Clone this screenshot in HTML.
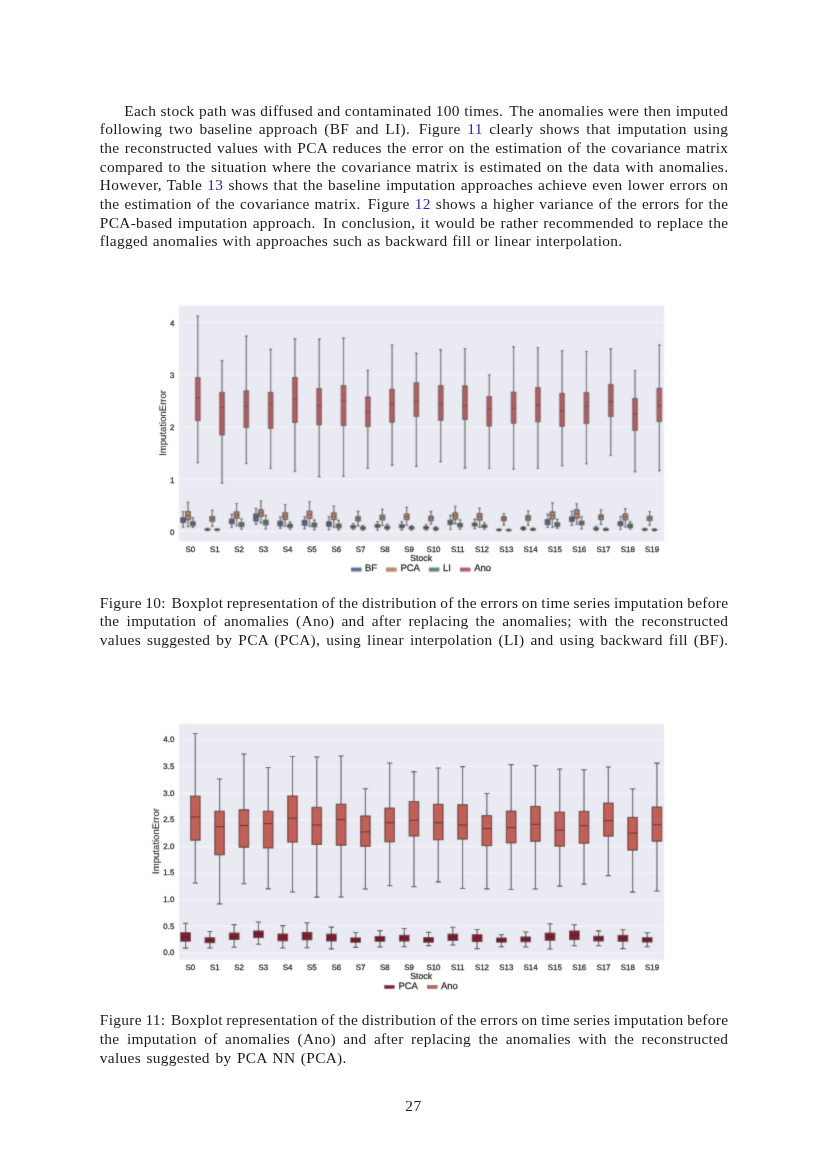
<!DOCTYPE html>
<html lang="en">
<head>
<meta charset="utf-8">
<title>Page 27</title>
<style>
html,body{margin:0;padding:0;background:#fff;}
body{width:827px;height:1169px;position:relative;overflow:hidden;font-family:"Liberation Serif","DejaVu Serif",serif;color:#1a1a1a;}
.ln{position:absolute;height:20px;line-height:20px;font-size:15.4px;white-space:nowrap;}
.sp{display:inline-block;width:2px;}
.ln a{color:#2626c4;text-decoration:none;}
.pn{position:absolute;left:0;width:827px;text-align:center;top:1095.5px;font-size:15.4px;line-height:20px;letter-spacing:0.5px;}
svg{position:absolute;left:0;top:0;}
svg text{text-rendering:geometricPrecision;stroke:#262626;stroke-width:0.25px;}
</style>
</head>
<body>
<div class="ln" style="top:100.6px;left:124.2px;letter-spacing:0.300px;word-spacing:0.273px;">Each stock path was diffused and contaminated 100 times.<span class=sp></span> The anomalies were then imputed</div>
<div class="ln" style="top:119.28px;left:99.8px;letter-spacing:0.300px;word-spacing:2.425px;">following two baseline approach (BF and LI).<span class=sp></span> Figure <a>11</a> clearly shows that imputation using</div>
<div class="ln" style="top:137.96px;left:99.8px;letter-spacing:0.300px;word-spacing:1.179px;">the reconstructed values with PCA reduces the error on the estimation of the covariance matrix</div>
<div class="ln" style="top:156.64px;left:99.8px;letter-spacing:0.300px;word-spacing:1.148px;">compared to the situation where the covariance matrix is estimated on the data with anomalies.</div>
<div class="ln" style="top:175.32px;left:99.8px;letter-spacing:0.300px;word-spacing:1.007px;">However, Table <a>13</a> shows that the baseline imputation approaches achieve even lower errors on</div>
<div class="ln" style="top:194px;left:99.8px;letter-spacing:0.300px;word-spacing:0.894px;">the estimation of the covariance matrix.<span class=sp></span> Figure <a>12</a> shows a higher variance of the errors for the</div>
<div class="ln" style="top:212.68px;left:99.8px;letter-spacing:0.300px;word-spacing:1.067px;">PCA-based imputation approach.<span class=sp></span> In conclusion, it would be rather recommended to replace the</div>
<div class="ln" style="top:231.36px;left:99.8px;letter-spacing:0.300px;word-spacing:0.593px;">flagged anomalies with approaches such as backward fill or linear interpolation.</div>
<div class="ln" style="top:592.8px;left:99.8px;letter-spacing:0.300px;word-spacing:-0.564px;">Figure 10:<span class=sp></span> Boxplot representation of the distribution of the errors on time series imputation before</div>
<div class="ln" style="top:611.4px;left:99.8px;letter-spacing:0.300px;word-spacing:2.946px;">the imputation of anomalies (Ano) and after replacing the anomalies; with the reconstructed</div>
<div class="ln" style="top:630px;left:99.8px;letter-spacing:0.300px;word-spacing:1.866px;">values suggested by PCA (PCA), using linear interpolation (LI) and using backward fill (BF).</div>
<div class="ln" style="top:1010.4px;left:99.8px;letter-spacing:0.300px;word-spacing:-0.523px;">Figure 11:<span class=sp></span> Boxplot representation of the distribution of the errors on time series imputation before</div>
<div class="ln" style="top:1029.05px;left:99.8px;letter-spacing:0.300px;word-spacing:3.327px;">the imputation of anomalies (Ano) and after replacing the anomalies with the reconstructed</div>
<div class="ln" style="top:1047.7px;left:99.8px;letter-spacing:0.300px;word-spacing:1.397px;">values suggested by PCA NN (PCA).</div>
<div class="pn">27</div>
<svg width="827" height="1169" viewBox="0 0 827 1169">
<defs><filter id="softT" x="-2%" y="-2%" width="104%" height="104%"><feConvolveMatrix order="3" kernelMatrix="0.01 0.07 0.01 0.07 0.68 0.07 0.01 0.07 0.01" edgeMode="duplicate" preserveAlpha="false"/></filter><filter id="soft2" x="-2%" y="-2%" width="104%" height="104%"><feConvolveMatrix order="3" kernelMatrix="0.03 0.09 0.03 0.09 0.52 0.09 0.03 0.09 0.03" edgeMode="duplicate" preserveAlpha="false"/></filter><filter id="soft" x="-2%" y="-2%" width="104%" height="104%"><feConvolveMatrix order="3" kernelMatrix="0.05 0.1 0.05 0.1 0.4 0.1 0.05 0.1 0.05" edgeMode="duplicate" preserveAlpha="false"/></filter></defs>
<g filter="url(#soft)">
<rect x="179" y="305.6" width="485.1" height="235.8" fill="#eaeaf2"/>
<path d="M179 531.4H664.1M179 479.2H664.1M179 427H664.1M179 374.8H664.1M179 322.6H664.1" stroke="#ffffff" stroke-width="0.55" fill="none"/>
<path d="M183.16 517.88V511.56M183.16 522.53V527.22M181.83 511.56H184.49M181.83 527.22H184.49" stroke="#4c4c4c" stroke-width="1.1" fill="none"/><rect x="180.78" y="517.88" width="4.76" height="4.65" fill="#546f9e" stroke="#4c4c4c" stroke-width="1.1"/><path d="M180.78 519.92H185.54" stroke="#4c4c4c" stroke-width="0.99"/>
<path d="M188.02 511.56V502.22M188.02 519.71V526.6M186.68 502.22H189.35M186.68 526.6H189.35" stroke="#4c4c4c" stroke-width="1.1" fill="none"/><rect x="185.64" y="511.56" width="4.76" height="8.14" fill="#c8865f" stroke="#4c4c4c" stroke-width="1.1"/><path d="M185.64 515.58H190.4" stroke="#4c4c4c" stroke-width="0.99"/>
<path d="M192.88 521.85V517.62M192.88 525.66V527.49M191.54 517.62H194.21M191.54 527.49H194.21" stroke="#4c4c4c" stroke-width="1.1" fill="none"/><rect x="190.5" y="521.85" width="4.76" height="3.81" fill="#588f66" stroke="#4c4c4c" stroke-width="1.1"/><path d="M190.5 523.62H195.26" stroke="#4c4c4c" stroke-width="0.99"/>
<path d="M197.74 377.57V315.97M197.74 420.68V462.7M196.4 315.97H199.07M196.4 462.7H199.07" stroke="#4c4c4c" stroke-width="1.1" fill="none"/><rect x="195.36" y="377.57" width="4.76" height="43.12" fill="#b85b5f" stroke="#4c4c4c" stroke-width="0.83"/><path d="M195.36 397.87H200.12" stroke="#4c4c4c" stroke-width="0.77"/>
<path d="M207.45 528.89V528.27M207.45 530.04V530.77M206.12 528.27H208.79M206.12 530.77H208.79" stroke="#4c4c4c" stroke-width="1.1" fill="none"/><rect x="205.07" y="528.89" width="4.76" height="1.15" fill="#546f9e" stroke="#4c4c4c" stroke-width="1.1"/><path d="M205.07 529.52H209.83" stroke="#4c4c4c" stroke-width="0.99"/>
<path d="M212.31 516.52V510.36M212.31 521.22V526.44M210.98 510.36H213.65M210.98 526.44H213.65" stroke="#4c4c4c" stroke-width="1.1" fill="none"/><rect x="209.93" y="516.52" width="4.76" height="4.7" fill="#c8865f" stroke="#4c4c4c" stroke-width="1.1"/><path d="M209.93 518.82H214.69" stroke="#4c4c4c" stroke-width="0.99"/>
<path d="M217.17 529.21V528.69M217.17 530.15V530.77M215.84 528.69H218.51M215.84 530.77H218.51" stroke="#4c4c4c" stroke-width="1.1" fill="none"/><rect x="214.79" y="529.21" width="4.76" height="0.94" fill="#588f66" stroke="#4c4c4c" stroke-width="1.1"/><path d="M214.79 529.68H219.55" stroke="#4c4c4c" stroke-width="0.99"/>
<path d="M222.03 392.34V360.65M222.03 434.99V483.22M220.7 360.65H223.36M220.7 483.22H223.36" stroke="#4c4c4c" stroke-width="1.1" fill="none"/><rect x="219.65" y="392.34" width="4.76" height="42.65" fill="#b85b5f" stroke="#4c4c4c" stroke-width="0.83"/><path d="M219.65 407.42H224.41" stroke="#4c4c4c" stroke-width="0.77"/>
<path d="M231.75 519.24V514.33M231.75 523.73V527.49M230.42 514.33H233.08M230.42 527.49H233.08" stroke="#4c4c4c" stroke-width="1.1" fill="none"/><rect x="229.37" y="519.24" width="4.76" height="4.49" fill="#546f9e" stroke="#4c4c4c" stroke-width="1.1"/><path d="M229.37 521.48H234.13" stroke="#4c4c4c" stroke-width="0.99"/>
<path d="M236.61 511.93V503.53M236.61 518.14V525.76M235.27 503.53H237.94M235.27 525.76H237.94" stroke="#4c4c4c" stroke-width="1.1" fill="none"/><rect x="234.23" y="511.93" width="4.76" height="6.21" fill="#c8865f" stroke="#4c4c4c" stroke-width="1.1"/><path d="M234.23 515.11H238.99" stroke="#4c4c4c" stroke-width="0.99"/>
<path d="M241.47 522.53V518.98M241.47 526.55V529.26M240.13 518.98H242.8M240.13 529.26H242.8" stroke="#4c4c4c" stroke-width="1.1" fill="none"/><rect x="239.09" y="522.53" width="4.76" height="4.02" fill="#588f66" stroke="#4c4c4c" stroke-width="1.1"/><path d="M239.09 524.51H243.85" stroke="#4c4c4c" stroke-width="0.99"/>
<path d="M246.33 390.83V336.17M246.33 427.63V463.49M244.99 336.17H247.66M244.99 463.49H247.66" stroke="#4c4c4c" stroke-width="1.1" fill="none"/><rect x="243.95" y="390.83" width="4.76" height="36.8" fill="#b85b5f" stroke="#4c4c4c" stroke-width="0.83"/><path d="M243.95 406.22H248.71" stroke="#4c4c4c" stroke-width="0.77"/>
<path d="M256.04 514.07V508.22M256.04 520.96V524.35M254.71 508.22H257.38M254.71 524.35H257.38" stroke="#4c4c4c" stroke-width="1.1" fill="none"/><rect x="253.66" y="514.07" width="4.76" height="6.89" fill="#546f9e" stroke="#4c4c4c" stroke-width="1.1"/><path d="M253.66 517.2H258.42" stroke="#4c4c4c" stroke-width="0.99"/>
<path d="M260.9 509.89V501.02M260.9 516.26V522.84M259.57 501.02H262.24M259.57 522.84H262.24" stroke="#4c4c4c" stroke-width="1.1" fill="none"/><rect x="258.52" y="509.89" width="4.76" height="6.37" fill="#c8865f" stroke="#4c4c4c" stroke-width="1.1"/><path d="M258.52 512.87H263.28" stroke="#4c4c4c" stroke-width="0.99"/>
<path d="M265.76 520.33V515.37M265.76 524.77V529.05M264.43 515.37H267.1M264.43 529.05H267.1" stroke="#4c4c4c" stroke-width="1.1" fill="none"/><rect x="263.38" y="520.33" width="4.76" height="4.44" fill="#588f66" stroke="#4c4c4c" stroke-width="1.1"/><path d="M263.38 522.37H268.14" stroke="#4c4c4c" stroke-width="0.99"/>
<path d="M270.62 392.34V349.38M270.62 428.25V468.45M269.29 349.38H271.95M269.29 468.45H271.95" stroke="#4c4c4c" stroke-width="1.1" fill="none"/><rect x="268.24" y="392.34" width="4.76" height="35.91" fill="#b85b5f" stroke="#4c4c4c" stroke-width="0.83"/><path d="M268.24 404.35H273" stroke="#4c4c4c" stroke-width="0.77"/>
<path d="M280.34 521.22V516.73M280.34 525.87V528.37M279.01 516.73H281.67M279.01 528.37H281.67" stroke="#4c4c4c" stroke-width="1.1" fill="none"/><rect x="277.96" y="521.22" width="4.76" height="4.65" fill="#546f9e" stroke="#4c4c4c" stroke-width="1.1"/><path d="M277.96 523.41H282.72" stroke="#4c4c4c" stroke-width="0.99"/>
<path d="M285.2 512.87V504.57M285.2 519.34V526.55M283.86 504.57H286.53M283.86 526.55H286.53" stroke="#4c4c4c" stroke-width="1.1" fill="none"/><rect x="282.82" y="512.87" width="4.76" height="6.47" fill="#c8865f" stroke="#4c4c4c" stroke-width="1.1"/><path d="M282.82 516.16H287.58" stroke="#4c4c4c" stroke-width="0.99"/>
<path d="M290.06 524.35V522.11M290.06 527.28V529.26M288.72 522.11H291.39M288.72 529.26H291.39" stroke="#4c4c4c" stroke-width="1.1" fill="none"/><rect x="287.68" y="524.35" width="4.76" height="2.92" fill="#588f66" stroke="#4c4c4c" stroke-width="1.1"/><path d="M287.68 525.66H292.44" stroke="#4c4c4c" stroke-width="0.99"/>
<path d="M294.92 377.41V338.63M294.92 422.51V471.53M293.58 338.63H296.25M293.58 471.53H296.25" stroke="#4c4c4c" stroke-width="1.1" fill="none"/><rect x="292.54" y="377.41" width="4.76" height="45.1" fill="#b85b5f" stroke="#4c4c4c" stroke-width="0.83"/><path d="M292.54 399.28H297.3" stroke="#4c4c4c" stroke-width="0.77"/>
<path d="M304.63 520.33V516.73M304.63 525.24V528.63M303.3 516.73H305.97M303.3 528.63H305.97" stroke="#4c4c4c" stroke-width="1.1" fill="none"/><rect x="302.25" y="520.33" width="4.76" height="4.91" fill="#546f9e" stroke="#4c4c4c" stroke-width="1.1"/><path d="M302.25 522.73H307.01" stroke="#4c4c4c" stroke-width="0.99"/>
<path d="M309.49 511.25V501.7M309.49 518.4V526.23M308.16 501.7H310.83M308.16 526.23H310.83" stroke="#4c4c4c" stroke-width="1.1" fill="none"/><rect x="307.11" y="511.25" width="4.76" height="7.15" fill="#c8865f" stroke="#4c4c4c" stroke-width="1.1"/><path d="M307.11 514.64H311.87" stroke="#4c4c4c" stroke-width="0.99"/>
<path d="M314.35 523.15V520.12M314.35 526.86V529.99M313.02 520.12H315.69M313.02 529.99H315.69" stroke="#4c4c4c" stroke-width="1.1" fill="none"/><rect x="311.97" y="523.15" width="4.76" height="3.71" fill="#588f66" stroke="#4c4c4c" stroke-width="1.1"/><path d="M311.97 524.77H316.73" stroke="#4c4c4c" stroke-width="0.99"/>
<path d="M319.21 388.53V339.1M319.21 424.86V476.59M317.88 339.1H320.54M317.88 476.59H320.54" stroke="#4c4c4c" stroke-width="1.1" fill="none"/><rect x="316.83" y="388.53" width="4.76" height="36.33" fill="#b85b5f" stroke="#4c4c4c" stroke-width="0.83"/><path d="M316.83 405.75H321.59" stroke="#4c4c4c" stroke-width="0.77"/>
<path d="M328.93 521.85V516.47M328.93 526.13V529.68M327.6 516.47H330.26M327.6 529.68H330.26" stroke="#4c4c4c" stroke-width="1.1" fill="none"/><rect x="326.55" y="521.85" width="4.76" height="4.28" fill="#546f9e" stroke="#4c4c4c" stroke-width="1.1"/><path d="M326.55 523.88H331.31" stroke="#4c4c4c" stroke-width="0.99"/>
<path d="M333.79 512.97V506.03M333.79 519.55V527.33M332.45 506.03H335.12M332.45 527.33H335.12" stroke="#4c4c4c" stroke-width="1.1" fill="none"/><rect x="331.41" y="512.97" width="4.76" height="6.58" fill="#c8865f" stroke="#4c4c4c" stroke-width="1.1"/><path d="M331.41 516.21H336.17" stroke="#4c4c4c" stroke-width="0.99"/>
<path d="M338.65 524.14V520.33M338.65 527.75V529.89M337.31 520.33H339.98M337.31 529.89H339.98" stroke="#4c4c4c" stroke-width="1.1" fill="none"/><rect x="336.27" y="524.14" width="4.76" height="3.6" fill="#588f66" stroke="#4c4c4c" stroke-width="1.1"/><path d="M336.27 525.87H341.03" stroke="#4c4c4c" stroke-width="0.99"/>
<path d="M343.51 385.45V338.16M343.51 425.75V476.43M342.17 338.16H344.84M342.17 476.43H344.84" stroke="#4c4c4c" stroke-width="1.1" fill="none"/><rect x="341.13" y="385.45" width="4.76" height="40.3" fill="#b85b5f" stroke="#4c4c4c" stroke-width="0.83"/><path d="M341.13 400.38H345.89" stroke="#4c4c4c" stroke-width="0.77"/>
<path d="M353.22 525.66V523.47M353.22 527.9V529.52M351.89 523.47H354.56M351.89 529.52H354.56" stroke="#4c4c4c" stroke-width="1.1" fill="none"/><rect x="350.84" y="525.66" width="4.76" height="2.24" fill="#546f9e" stroke="#4c4c4c" stroke-width="1.1"/><path d="M350.84 526.75H355.6" stroke="#4c4c4c" stroke-width="0.99"/>
<path d="M358.08 516.68V511.36M358.08 520.86V525.92M356.75 511.36H359.42M356.75 525.92H359.42" stroke="#4c4c4c" stroke-width="1.1" fill="none"/><rect x="355.7" y="516.68" width="4.76" height="4.18" fill="#c8865f" stroke="#4c4c4c" stroke-width="1.1"/><path d="M355.7 518.66H360.46" stroke="#4c4c4c" stroke-width="0.99"/>
<path d="M362.94 527.02V525.66M362.94 529V530.41M361.61 525.66H364.28M361.61 530.41H364.28" stroke="#4c4c4c" stroke-width="1.1" fill="none"/><rect x="360.56" y="527.02" width="4.76" height="1.98" fill="#588f66" stroke="#4c4c4c" stroke-width="1.1"/><path d="M360.56 528.11H365.32" stroke="#4c4c4c" stroke-width="0.99"/>
<path d="M367.8 396.98V370.21M367.8 426.69V468.55M366.47 370.21H369.13M366.47 468.55H369.13" stroke="#4c4c4c" stroke-width="1.1" fill="none"/><rect x="365.42" y="396.98" width="4.76" height="29.7" fill="#b85b5f" stroke="#4c4c4c" stroke-width="0.83"/><path d="M365.42 412.54H370.18" stroke="#4c4c4c" stroke-width="0.77"/>
<path d="M377.52 524.51V521.64M377.52 527.28V530.15M376.19 521.64H378.85M376.19 530.15H378.85" stroke="#4c4c4c" stroke-width="1.1" fill="none"/><rect x="375.14" y="524.51" width="4.76" height="2.77" fill="#546f9e" stroke="#4c4c4c" stroke-width="1.1"/><path d="M375.14 525.87H379.9" stroke="#4c4c4c" stroke-width="0.99"/>
<path d="M382.38 515.22V509.42M382.38 519.86V525.55M381.04 509.42H383.71M381.04 525.55H383.71" stroke="#4c4c4c" stroke-width="1.1" fill="none"/><rect x="380" y="515.22" width="4.76" height="4.65" fill="#c8865f" stroke="#4c4c4c" stroke-width="1.1"/><path d="M380 517.46H384.76" stroke="#4c4c4c" stroke-width="0.99"/>
<path d="M387.24 526.28V524.35M387.24 528.63V529.89M385.9 524.35H388.57M385.9 529.89H388.57" stroke="#4c4c4c" stroke-width="1.1" fill="none"/><rect x="384.86" y="526.28" width="4.76" height="2.35" fill="#588f66" stroke="#4c4c4c" stroke-width="1.1"/><path d="M384.86 527.49H389.62" stroke="#4c4c4c" stroke-width="0.99"/>
<path d="M392.1 389.26V344.94M392.1 422.25V465.37M390.76 344.94H393.43M390.76 465.37H393.43" stroke="#4c4c4c" stroke-width="1.1" fill="none"/><rect x="389.72" y="389.26" width="4.76" height="32.99" fill="#b85b5f" stroke="#4c4c4c" stroke-width="0.83"/><path d="M389.72 403.46H394.48" stroke="#4c4c4c" stroke-width="0.77"/>
<path d="M401.81 524.77V521.64M401.81 527.64V529.89M400.48 521.64H403.15M400.48 529.89H403.15" stroke="#4c4c4c" stroke-width="1.1" fill="none"/><rect x="399.43" y="524.77" width="4.76" height="2.87" fill="#546f9e" stroke="#4c4c4c" stroke-width="1.1"/><path d="M399.43 526.13H404.19" stroke="#4c4c4c" stroke-width="0.99"/>
<path d="M406.67 514.12V507.39M406.67 519.6V525.24M405.34 507.39H408.01M405.34 525.24H408.01" stroke="#4c4c4c" stroke-width="1.1" fill="none"/><rect x="404.29" y="514.12" width="4.76" height="5.48" fill="#c8865f" stroke="#4c4c4c" stroke-width="1.1"/><path d="M404.29 516.78H409.05" stroke="#4c4c4c" stroke-width="0.99"/>
<path d="M411.53 526.86V525.5M411.53 528.79V530.15M410.2 525.5H412.87M410.2 530.15H412.87" stroke="#4c4c4c" stroke-width="1.1" fill="none"/><rect x="409.15" y="526.86" width="4.76" height="1.93" fill="#588f66" stroke="#4c4c4c" stroke-width="1.1"/><path d="M409.15 527.75H413.91" stroke="#4c4c4c" stroke-width="0.99"/>
<path d="M416.39 382.79V353.4M416.39 416.56V466.41M415.06 353.4H417.72M415.06 466.41H417.72" stroke="#4c4c4c" stroke-width="1.1" fill="none"/><rect x="414.01" y="382.79" width="4.76" height="33.77" fill="#b85b5f" stroke="#4c4c4c" stroke-width="0.83"/><path d="M414.01 401.27H418.77" stroke="#4c4c4c" stroke-width="0.77"/>
<path d="M426.11 526.55V524.51M426.11 528.79V530.15M424.78 524.51H427.44M424.78 530.15H427.44" stroke="#4c4c4c" stroke-width="1.1" fill="none"/><rect x="423.73" y="526.55" width="4.76" height="2.24" fill="#546f9e" stroke="#4c4c4c" stroke-width="1.1"/><path d="M423.73 527.75H428.49" stroke="#4c4c4c" stroke-width="0.99"/>
<path d="M430.97 516.26V511.2M430.97 520.75V524.2M429.63 511.2H432.3M429.63 524.2H432.3" stroke="#4c4c4c" stroke-width="1.1" fill="none"/><rect x="428.59" y="516.26" width="4.76" height="4.49" fill="#c8865f" stroke="#4c4c4c" stroke-width="1.1"/><path d="M428.59 518.4H433.35" stroke="#4c4c4c" stroke-width="0.99"/>
<path d="M435.83 527.9V526.55M435.83 529.68V530.62M434.49 526.55H437.16M434.49 530.62H437.16" stroke="#4c4c4c" stroke-width="1.1" fill="none"/><rect x="433.45" y="527.9" width="4.76" height="1.77" fill="#588f66" stroke="#4c4c4c" stroke-width="1.1"/><path d="M433.45 528.79H438.21" stroke="#4c4c4c" stroke-width="0.99"/>
<path d="M440.69 385.55V349.85M440.69 420.21V461.66M439.35 349.85H442.02M439.35 461.66H442.02" stroke="#4c4c4c" stroke-width="1.1" fill="none"/><rect x="438.31" y="385.55" width="4.76" height="34.66" fill="#b85b5f" stroke="#4c4c4c" stroke-width="0.83"/><path d="M438.31 403.61H443.07" stroke="#4c4c4c" stroke-width="0.77"/>
<path d="M450.4 520.33V515.37M450.4 524.51V529.52M449.07 515.37H451.74M449.07 529.52H451.74" stroke="#4c4c4c" stroke-width="1.1" fill="none"/><rect x="448.02" y="520.33" width="4.76" height="4.18" fill="#546f9e" stroke="#4c4c4c" stroke-width="1.1"/><path d="M448.02 522.37H452.78" stroke="#4c4c4c" stroke-width="0.99"/>
<path d="M455.26 512.97V506.19M455.26 519.03V523.62M453.93 506.19H456.6M453.93 523.62H456.6" stroke="#4c4c4c" stroke-width="1.1" fill="none"/><rect x="452.88" y="512.97" width="4.76" height="6.06" fill="#c8865f" stroke="#4c4c4c" stroke-width="1.1"/><path d="M452.88 515.84H457.64" stroke="#4c4c4c" stroke-width="0.99"/>
<path d="M460.12 523.47V519.71M460.12 526.75V529.26M458.79 519.71H461.46M458.79 529.26H461.46" stroke="#4c4c4c" stroke-width="1.1" fill="none"/><rect x="457.74" y="523.47" width="4.76" height="3.29" fill="#588f66" stroke="#4c4c4c" stroke-width="1.1"/><path d="M457.74 525.03H462.5" stroke="#4c4c4c" stroke-width="0.99"/>
<path d="M464.98 385.87V348.49M464.98 419.59V468.13M463.65 348.49H466.31M463.65 468.13H466.31" stroke="#4c4c4c" stroke-width="1.1" fill="none"/><rect x="462.6" y="385.87" width="4.76" height="33.72" fill="#b85b5f" stroke="#4c4c4c" stroke-width="0.83"/><path d="M462.6 405.75H467.36" stroke="#4c4c4c" stroke-width="0.77"/>
<path d="M474.7 523.15V519.39M474.7 525.92V528.63M473.37 519.39H476.03M473.37 528.63H476.03" stroke="#4c4c4c" stroke-width="1.1" fill="none"/><rect x="472.32" y="523.15" width="4.76" height="2.77" fill="#546f9e" stroke="#4c4c4c" stroke-width="1.1"/><path d="M472.32 524.51H477.08" stroke="#4c4c4c" stroke-width="0.99"/>
<path d="M479.56 513.55V508.33M479.56 520.18V527.12M478.22 508.33H480.89M478.22 527.12H480.89" stroke="#4c4c4c" stroke-width="1.1" fill="none"/><rect x="477.18" y="513.55" width="4.76" height="6.63" fill="#c8865f" stroke="#4c4c4c" stroke-width="1.1"/><path d="M477.18 516.84H481.94" stroke="#4c4c4c" stroke-width="0.99"/>
<path d="M484.42 525.03V522.53M484.42 527.49V529.52M483.08 522.53H485.75M483.08 529.52H485.75" stroke="#4c4c4c" stroke-width="1.1" fill="none"/><rect x="482.04" y="525.03" width="4.76" height="2.45" fill="#588f66" stroke="#4c4c4c" stroke-width="1.1"/><path d="M482.04 526.13H486.8" stroke="#4c4c4c" stroke-width="0.99"/>
<path d="M489.28 396.52V374.96M489.28 426.06V468.45M487.94 374.96H490.61M487.94 468.45H490.61" stroke="#4c4c4c" stroke-width="1.1" fill="none"/><rect x="486.9" y="396.52" width="4.76" height="29.55" fill="#b85b5f" stroke="#4c4c4c" stroke-width="0.83"/><path d="M486.9 409.3H491.66" stroke="#4c4c4c" stroke-width="0.77"/>
<path d="M498.99 529.42V528.89M498.99 530.46V530.98M497.66 528.89H500.33M497.66 530.98H500.33" stroke="#4c4c4c" stroke-width="1.1" fill="none"/><rect x="496.61" y="529.42" width="4.76" height="1.04" fill="#546f9e" stroke="#4c4c4c" stroke-width="1.1"/><path d="M496.61 529.99H501.37" stroke="#4c4c4c" stroke-width="0.99"/>
<path d="M503.85 516.78V513.44M503.85 520.7V525.14M502.52 513.44H505.19M502.52 525.14H505.19" stroke="#4c4c4c" stroke-width="1.1" fill="none"/><rect x="501.47" y="516.78" width="4.76" height="3.91" fill="#c8865f" stroke="#4c4c4c" stroke-width="1.1"/><path d="M501.47 518.61H506.23" stroke="#4c4c4c" stroke-width="0.99"/>
<path d="M508.71 529.63V529.1M508.71 530.56V530.98M507.38 529.1H510.05M507.38 530.98H510.05" stroke="#4c4c4c" stroke-width="1.1" fill="none"/><rect x="506.33" y="529.63" width="4.76" height="0.94" fill="#588f66" stroke="#4c4c4c" stroke-width="1.1"/><path d="M506.33 530.15H511.09" stroke="#4c4c4c" stroke-width="0.99"/>
<path d="M513.57 392.18V346.61M513.57 423.29V469.02M512.24 346.61H514.9M512.24 469.02H514.9" stroke="#4c4c4c" stroke-width="1.1" fill="none"/><rect x="511.19" y="392.18" width="4.76" height="31.11" fill="#b85b5f" stroke="#4c4c4c" stroke-width="0.83"/><path d="M511.19 408.36H515.95" stroke="#4c4c4c" stroke-width="0.77"/>
<path d="M523.29 527.49V526.55M523.29 529.26V530.41M521.96 526.55H524.62M521.96 530.41H524.62" stroke="#4c4c4c" stroke-width="1.1" fill="none"/><rect x="520.91" y="527.49" width="4.76" height="1.77" fill="#546f9e" stroke="#4c4c4c" stroke-width="1.1"/><path d="M520.91 528.37H525.67" stroke="#4c4c4c" stroke-width="0.99"/>
<path d="M528.15 515.74V510.73M528.15 520.28V525.5M526.81 510.73H529.48M526.81 525.5H529.48" stroke="#4c4c4c" stroke-width="1.1" fill="none"/><rect x="525.77" y="515.74" width="4.76" height="4.54" fill="#c8865f" stroke="#4c4c4c" stroke-width="1.1"/><path d="M525.77 517.88H530.53" stroke="#4c4c4c" stroke-width="0.99"/>
<path d="M533.01 528.79V528.11M533.01 529.99V530.62M531.67 528.11H534.34M531.67 530.62H534.34" stroke="#4c4c4c" stroke-width="1.1" fill="none"/><rect x="530.63" y="528.79" width="4.76" height="1.2" fill="#588f66" stroke="#4c4c4c" stroke-width="1.1"/><path d="M530.63 529.42H535.39" stroke="#4c4c4c" stroke-width="0.99"/>
<path d="M537.87 387.59V347.55M537.87 421.78V468.55M536.53 347.55H539.2M536.53 468.55H539.2" stroke="#4c4c4c" stroke-width="1.1" fill="none"/><rect x="535.49" y="387.59" width="4.76" height="34.19" fill="#b85b5f" stroke="#4c4c4c" stroke-width="0.83"/><path d="M535.49 405.13H540.25" stroke="#4c4c4c" stroke-width="0.77"/>
<path d="M547.58 519.6V514.33M547.58 524.61V527.49M546.25 514.33H548.92M546.25 527.49H548.92" stroke="#4c4c4c" stroke-width="1.1" fill="none"/><rect x="545.2" y="519.6" width="4.76" height="5.01" fill="#546f9e" stroke="#4c4c4c" stroke-width="1.1"/><path d="M545.2 522.11H549.96" stroke="#4c4c4c" stroke-width="0.99"/>
<path d="M552.44 511.98V502.74M552.44 518.82V527.54M551.11 502.74H553.78M551.11 527.54H553.78" stroke="#4c4c4c" stroke-width="1.1" fill="none"/><rect x="550.06" y="511.98" width="4.76" height="6.84" fill="#c8865f" stroke="#4c4c4c" stroke-width="1.1"/><path d="M550.06 515.48H554.82" stroke="#4c4c4c" stroke-width="0.99"/>
<path d="M557.3 522.73V519.39M557.3 526.55V528.53M555.97 519.39H558.64M555.97 528.53H558.64" stroke="#4c4c4c" stroke-width="1.1" fill="none"/><rect x="554.92" y="522.73" width="4.76" height="3.81" fill="#588f66" stroke="#4c4c4c" stroke-width="1.1"/><path d="M554.92 524.51H559.68" stroke="#4c4c4c" stroke-width="0.99"/>
<path d="M562.16 393.28V350.79M562.16 426.53V465.78M560.83 350.79H563.49M560.83 465.78H563.49" stroke="#4c4c4c" stroke-width="1.1" fill="none"/><rect x="559.78" y="393.28" width="4.76" height="33.25" fill="#b85b5f" stroke="#4c4c4c" stroke-width="0.83"/><path d="M559.78 410.82H564.54" stroke="#4c4c4c" stroke-width="0.77"/>
<path d="M571.88 516.99V511.2M571.88 521.48V525.4M570.55 511.2H573.21M570.55 525.4H573.21" stroke="#4c4c4c" stroke-width="1.1" fill="none"/><rect x="569.5" y="516.99" width="4.76" height="4.49" fill="#546f9e" stroke="#4c4c4c" stroke-width="1.1"/><path d="M569.5 519.13H574.26" stroke="#4c4c4c" stroke-width="0.99"/>
<path d="M576.74 509.89V503.73M576.74 518.19V524.25M575.4 503.73H578.07M575.4 524.25H578.07" stroke="#4c4c4c" stroke-width="1.1" fill="none"/><rect x="574.36" y="509.89" width="4.76" height="8.3" fill="#c8865f" stroke="#4c4c4c" stroke-width="1.1"/><path d="M574.36 513.7H579.12" stroke="#4c4c4c" stroke-width="0.99"/>
<path d="M581.6 521.22V516.73M581.6 524.77V529.05M580.26 516.73H582.93M580.26 529.05H582.93" stroke="#4c4c4c" stroke-width="1.1" fill="none"/><rect x="579.22" y="521.22" width="4.76" height="3.55" fill="#588f66" stroke="#4c4c4c" stroke-width="1.1"/><path d="M579.22 523H583.98" stroke="#4c4c4c" stroke-width="0.99"/>
<path d="M586.46 392.5V351.57M586.46 423.61V463.8M585.12 351.57H587.79M585.12 463.8H587.79" stroke="#4c4c4c" stroke-width="1.1" fill="none"/><rect x="584.08" y="392.5" width="4.76" height="31.11" fill="#b85b5f" stroke="#4c4c4c" stroke-width="0.83"/><path d="M584.08 406.38H588.84" stroke="#4c4c4c" stroke-width="0.77"/>
<path d="M596.17 527.9V526.28M596.17 529.68V530.62M594.84 526.28H597.51M594.84 530.62H597.51" stroke="#4c4c4c" stroke-width="1.1" fill="none"/><rect x="593.79" y="527.9" width="4.76" height="1.77" fill="#546f9e" stroke="#4c4c4c" stroke-width="1.1"/><path d="M593.79 528.79H598.55" stroke="#4c4c4c" stroke-width="0.99"/>
<path d="M601.03 515.06V509.68M601.03 519.55V524.35M599.7 509.68H602.37M599.7 524.35H602.37" stroke="#4c4c4c" stroke-width="1.1" fill="none"/><rect x="598.65" y="515.06" width="4.76" height="4.49" fill="#c8865f" stroke="#4c4c4c" stroke-width="1.1"/><path d="M598.65 517.1H603.41" stroke="#4c4c4c" stroke-width="0.99"/>
<path d="M605.89 528.79V528.16M605.89 530.25V530.77M604.56 528.16H607.23M604.56 530.77H607.23" stroke="#4c4c4c" stroke-width="1.1" fill="none"/><rect x="603.51" y="528.79" width="4.76" height="1.46" fill="#588f66" stroke="#4c4c4c" stroke-width="1.1"/><path d="M603.51 529.52H608.27" stroke="#4c4c4c" stroke-width="0.99"/>
<path d="M610.75 384.35V348.91M610.75 416.66V455.5M609.42 348.91H612.08M609.42 455.5H612.08" stroke="#4c4c4c" stroke-width="1.1" fill="none"/><rect x="608.37" y="384.35" width="4.76" height="32.31" fill="#b85b5f" stroke="#4c4c4c" stroke-width="0.83"/><path d="M608.37 401.58H613.13" stroke="#4c4c4c" stroke-width="0.77"/>
<path d="M620.47 521.64V516.47M620.47 525.66V529.52M619.14 516.47H621.8M619.14 529.52H621.8" stroke="#4c4c4c" stroke-width="1.1" fill="none"/><rect x="618.09" y="521.64" width="4.76" height="4.02" fill="#546f9e" stroke="#4c4c4c" stroke-width="1.1"/><path d="M618.09 523.62H622.85" stroke="#4c4c4c" stroke-width="0.99"/>
<path d="M625.33 514.12V508.64M625.33 519.81V527.07M623.99 508.64H626.66M623.99 527.07H626.66" stroke="#4c4c4c" stroke-width="1.1" fill="none"/><rect x="622.95" y="514.12" width="4.76" height="5.69" fill="#c8865f" stroke="#4c4c4c" stroke-width="1.1"/><path d="M622.95 516.89H627.71" stroke="#4c4c4c" stroke-width="0.99"/>
<path d="M630.19 524.14V521.48M630.19 527.49V529.05M628.85 521.48H631.52M628.85 529.05H631.52" stroke="#4c4c4c" stroke-width="1.1" fill="none"/><rect x="627.81" y="524.14" width="4.76" height="3.34" fill="#588f66" stroke="#4c4c4c" stroke-width="1.1"/><path d="M627.81 525.87H632.57" stroke="#4c4c4c" stroke-width="0.99"/>
<path d="M635.05 398.34V370.47M635.05 430.39V471.63M633.71 370.47H636.38M633.71 471.63H636.38" stroke="#4c4c4c" stroke-width="1.1" fill="none"/><rect x="632.67" y="398.34" width="4.76" height="32.05" fill="#b85b5f" stroke="#4c4c4c" stroke-width="0.83"/><path d="M632.67 413.74H637.43" stroke="#4c4c4c" stroke-width="0.77"/>
<path d="M644.76 528.89V528.27M644.76 530.04V530.67M643.43 528.27H646.1M643.43 530.67H646.1" stroke="#4c4c4c" stroke-width="1.1" fill="none"/><rect x="642.38" y="528.89" width="4.76" height="1.15" fill="#546f9e" stroke="#4c4c4c" stroke-width="1.1"/><path d="M642.38 529.52H647.14" stroke="#4c4c4c" stroke-width="0.99"/>
<path d="M649.62 516.42V511.56M649.62 520.54V525.24M648.29 511.56H650.96M648.29 525.24H650.96" stroke="#4c4c4c" stroke-width="1.1" fill="none"/><rect x="647.24" y="516.42" width="4.76" height="4.12" fill="#c8865f" stroke="#4c4c4c" stroke-width="1.1"/><path d="M647.24 518.4H652" stroke="#4c4c4c" stroke-width="0.99"/>
<path d="M654.48 529.31V528.79M654.48 530.36V530.88M653.15 528.79H655.82M653.15 530.88H655.82" stroke="#4c4c4c" stroke-width="1.1" fill="none"/><rect x="652.1" y="529.31" width="4.76" height="1.04" fill="#588f66" stroke="#4c4c4c" stroke-width="1.1"/><path d="M652.1 529.89H656.86" stroke="#4c4c4c" stroke-width="0.99"/>
<path d="M659.34 388.22V345.1M659.34 421.62V470.59M658.01 345.1H660.67M658.01 470.59H660.67" stroke="#4c4c4c" stroke-width="1.1" fill="none"/><rect x="656.96" y="388.22" width="4.76" height="33.41" fill="#b85b5f" stroke="#4c4c4c" stroke-width="0.83"/><path d="M656.96 405.44H661.72" stroke="#4c4c4c" stroke-width="0.77"/>
<rect x="351.2" y="567.9" width="10" height="3.3" fill="#546f9e" stroke="#4c4c4c" stroke-width="0.35"/>
<rect x="386.3" y="567.9" width="10" height="3.3" fill="#c8865f" stroke="#4c4c4c" stroke-width="0.35"/>
<rect x="429.1" y="567.9" width="10" height="3.3" fill="#588f66" stroke="#4c4c4c" stroke-width="0.35"/>
<rect x="460.2" y="567.9" width="10" height="3.3" fill="#b85b5f" stroke="#4c4c4c" stroke-width="0.35"/>
</g>
<g filter="url(#softT)">
<g font-family='"Liberation Sans", "DejaVu Sans", sans-serif' font-size="7.9" fill="#262626">
<text x="190.45" y="552" text-anchor="middle">S0</text>
<text x="214.74" y="552" text-anchor="middle">S1</text>
<text x="239.04" y="552" text-anchor="middle">S2</text>
<text x="263.33" y="552" text-anchor="middle">S3</text>
<text x="287.63" y="552" text-anchor="middle">S4</text>
<text x="311.92" y="552" text-anchor="middle">S5</text>
<text x="336.22" y="552" text-anchor="middle">S6</text>
<text x="360.51" y="552" text-anchor="middle">S7</text>
<text x="384.81" y="552" text-anchor="middle">S8</text>
<text x="409.1" y="552" text-anchor="middle">S9</text>
<text x="433.4" y="552" text-anchor="middle">S10</text>
<text x="457.69" y="552" text-anchor="middle">S11</text>
<text x="481.99" y="552" text-anchor="middle">S12</text>
<text x="506.28" y="552" text-anchor="middle">S13</text>
<text x="530.58" y="552" text-anchor="middle">S14</text>
<text x="554.87" y="552" text-anchor="middle">S15</text>
<text x="579.17" y="552" text-anchor="middle">S16</text>
<text x="603.46" y="552" text-anchor="middle">S17</text>
<text x="627.76" y="552" text-anchor="middle">S18</text>
<text x="652.05" y="552" text-anchor="middle">S19</text>
<text x="174.3" y="534.7" text-anchor="end">0</text>
<text x="174.3" y="482.5" text-anchor="end">1</text>
<text x="174.3" y="430.3" text-anchor="end">2</text>
<text x="174.3" y="378.1" text-anchor="end">3</text>
<text x="174.3" y="325.9" text-anchor="end">4</text>
</g>
<text x="421.2" y="561.2" text-anchor="middle" font-family='"Liberation Sans", "DejaVu Sans", sans-serif' font-size="8.7" fill="#262626">Stock</text>
<text transform="translate(166.3 422.9) rotate(-90)" text-anchor="middle" style="stroke-width:0.08px" font-family='"Liberation Sans", "DejaVu Sans", sans-serif' font-size="9.55" fill="#262626">ImputationError</text>
<g font-family='"Liberation Sans", "DejaVu Sans", sans-serif' font-size="9.5" fill="#262626">
<text x="365" y="571.3">BF</text>
<text x="400.4" y="571.3">PCA</text>
<text x="442.9" y="571.3">LI</text>
<text x="474.2" y="571.3">Ano</text>
</g>
</g>
<g filter="url(#soft2)">
<rect x="179.1" y="723.8" width="485" height="236" fill="#eaeaf2"/>
<path d="M179.1 953H664.1M179.1 926.4H664.1M179.1 899.8H664.1M179.1 873.2H664.1M179.1 846.6H664.1M179.1 820H664.1M179.1 793.4H664.1M179.1 766.8H664.1M179.1 740.2H664.1" stroke="#ffffff" stroke-width="0.55" fill="none"/>
<path d="M185.59 932.78V923.26M185.59 941.08V948.11M182.92 923.26H188.26M182.92 948.11H188.26" stroke="#4c4c4c" stroke-width="1.1" fill="none"/><rect x="180.83" y="932.78" width="9.52" height="8.3" fill="#8a1f2e" stroke="#54202a" stroke-width="1.1"/><path d="M180.83 936.88H190.35" stroke="#54202a" stroke-width="1.1"/>
<path d="M195.31 796.22V733.44M195.31 840.16V882.99M192.64 733.44H197.97M192.64 882.99H197.97" stroke="#4c4c4c" stroke-width="1.1" fill="none"/><rect x="190.54" y="796.22" width="9.52" height="43.94" fill="#c45f55" stroke="#5a3a38" stroke-width="1.1"/><path d="M190.54 816.91H200.07" stroke="#5a3a38" stroke-width="1.1"/>
<path d="M209.88 937.84V931.56M209.88 942.63V947.95M207.22 931.56H212.55M207.22 947.95H212.55" stroke="#4c4c4c" stroke-width="1.1" fill="none"/><rect x="205.12" y="937.84" width="9.52" height="4.79" fill="#8a1f2e" stroke="#54202a" stroke-width="1.1"/><path d="M205.12 940.18H214.65" stroke="#54202a" stroke-width="1.1"/>
<path d="M219.6 811.28V778.98M219.6 854.74V903.9M216.93 778.98H222.27M216.93 903.9H222.27" stroke="#4c4c4c" stroke-width="1.1" fill="none"/><rect x="214.84" y="811.28" width="9.52" height="43.46" fill="#c45f55" stroke="#5a3a38" stroke-width="1.1"/><path d="M214.84 826.65H224.36" stroke="#5a3a38" stroke-width="1.1"/>
<path d="M234.18 933.16V924.59M234.18 939.49V947.25M231.51 924.59H236.85M231.51 947.25H236.85" stroke="#4c4c4c" stroke-width="1.1" fill="none"/><rect x="229.42" y="933.16" width="9.52" height="6.33" fill="#8a1f2e" stroke="#54202a" stroke-width="1.1"/><path d="M229.42 936.4H238.94" stroke="#54202a" stroke-width="1.1"/>
<path d="M243.9 809.73V754.03M243.9 847.24V883.79M241.23 754.03H246.56M241.23 883.79H246.56" stroke="#4c4c4c" stroke-width="1.1" fill="none"/><rect x="239.13" y="809.73" width="9.52" height="37.51" fill="#c45f55" stroke="#5a3a38" stroke-width="1.1"/><path d="M239.13 825.43H248.66" stroke="#5a3a38" stroke-width="1.1"/>
<path d="M258.47 931.08V922.04M258.47 937.57V944.28M255.81 922.04H261.14M255.81 944.28H261.14" stroke="#4c4c4c" stroke-width="1.1" fill="none"/><rect x="253.71" y="931.08" width="9.52" height="6.49" fill="#8a1f2e" stroke="#54202a" stroke-width="1.1"/><path d="M253.71 934.11H263.24" stroke="#54202a" stroke-width="1.1"/>
<path d="M268.19 811.28V767.49M268.19 847.88V888.84M265.52 767.49H270.86M265.52 888.84H270.86" stroke="#4c4c4c" stroke-width="1.1" fill="none"/><rect x="263.43" y="811.28" width="9.52" height="36.6" fill="#c45f55" stroke="#5a3a38" stroke-width="1.1"/><path d="M263.43 823.51H272.95" stroke="#5a3a38" stroke-width="1.1"/>
<path d="M282.77 934.11V925.66M282.77 940.71V948.05M280.1 925.66H285.44M280.1 948.05H285.44" stroke="#4c4c4c" stroke-width="1.1" fill="none"/><rect x="278.01" y="934.11" width="9.52" height="6.6" fill="#8a1f2e" stroke="#54202a" stroke-width="1.1"/><path d="M278.01 937.47H287.53" stroke="#54202a" stroke-width="1.1"/>
<path d="M292.49 796.06V756.53M292.49 842.02V891.98M289.82 756.53H295.15M289.82 891.98H295.15" stroke="#4c4c4c" stroke-width="1.1" fill="none"/><rect x="287.72" y="796.06" width="9.52" height="45.96" fill="#c45f55" stroke="#5a3a38" stroke-width="1.1"/><path d="M287.72 818.35H297.25" stroke="#5a3a38" stroke-width="1.1"/>
<path d="M307.06 932.46V922.73M307.06 939.75V947.73M304.4 922.73H309.73M304.4 947.73H309.73" stroke="#4c4c4c" stroke-width="1.1" fill="none"/><rect x="302.3" y="932.46" width="9.52" height="7.29" fill="#8a1f2e" stroke="#54202a" stroke-width="1.1"/><path d="M302.3 935.92H311.83" stroke="#54202a" stroke-width="1.1"/>
<path d="M316.78 807.39V757.01M316.78 844.42V897.14M314.11 757.01H319.45M314.11 897.14H319.45" stroke="#4c4c4c" stroke-width="1.1" fill="none"/><rect x="312.02" y="807.39" width="9.52" height="37.03" fill="#c45f55" stroke="#5a3a38" stroke-width="1.1"/><path d="M312.02 824.95H321.54" stroke="#5a3a38" stroke-width="1.1"/>
<path d="M331.36 934.22V927.14M331.36 940.92V948.85M328.69 927.14H334.03M328.69 948.85H334.03" stroke="#4c4c4c" stroke-width="1.1" fill="none"/><rect x="326.6" y="934.22" width="9.52" height="6.7" fill="#8a1f2e" stroke="#54202a" stroke-width="1.1"/><path d="M326.6 937.52H336.12" stroke="#54202a" stroke-width="1.1"/>
<path d="M341.08 804.25V756.05M341.08 845.32V896.98M338.41 756.05H343.74M338.41 896.98H343.74" stroke="#4c4c4c" stroke-width="1.1" fill="none"/><rect x="336.31" y="804.25" width="9.52" height="41.07" fill="#c45f55" stroke="#5a3a38" stroke-width="1.1"/><path d="M336.31 819.47H345.84" stroke="#5a3a38" stroke-width="1.1"/>
<path d="M355.65 938V932.57M355.65 942.25V947.41M352.99 932.57H358.32M352.99 947.41H358.32" stroke="#4c4c4c" stroke-width="1.1" fill="none"/><rect x="350.89" y="938" width="9.52" height="4.26" fill="#8a1f2e" stroke="#54202a" stroke-width="1.1"/><path d="M350.89 940.02H360.42" stroke="#54202a" stroke-width="1.1"/>
<path d="M365.37 816.01V788.72M365.37 846.28V888.95M362.7 788.72H368.04M362.7 888.95H368.04" stroke="#4c4c4c" stroke-width="1.1" fill="none"/><rect x="360.61" y="816.01" width="9.52" height="30.27" fill="#c45f55" stroke="#5a3a38" stroke-width="1.1"/><path d="M360.61 831.86H370.13" stroke="#5a3a38" stroke-width="1.1"/>
<path d="M379.95 936.51V930.6M379.95 941.24V947.04M377.28 930.6H382.62M377.28 947.04H382.62" stroke="#4c4c4c" stroke-width="1.1" fill="none"/><rect x="375.19" y="936.51" width="9.52" height="4.73" fill="#8a1f2e" stroke="#54202a" stroke-width="1.1"/><path d="M375.19 938.8H384.71" stroke="#54202a" stroke-width="1.1"/>
<path d="M389.67 808.14V762.97M389.67 841.76V885.7M387 762.97H392.33M387 885.7H392.33" stroke="#4c4c4c" stroke-width="1.1" fill="none"/><rect x="384.9" y="808.14" width="9.52" height="33.62" fill="#c45f55" stroke="#5a3a38" stroke-width="1.1"/><path d="M384.9 822.61H394.43" stroke="#5a3a38" stroke-width="1.1"/>
<path d="M404.24 935.39V928.53M404.24 940.98V946.72M401.58 928.53H406.91M401.58 946.72H406.91" stroke="#4c4c4c" stroke-width="1.1" fill="none"/><rect x="399.48" y="935.39" width="9.52" height="5.59" fill="#8a1f2e" stroke="#54202a" stroke-width="1.1"/><path d="M399.48 938.1H409.01" stroke="#54202a" stroke-width="1.1"/>
<path d="M413.96 801.54V771.59M413.96 835.96V886.77M411.29 771.59H416.63M411.29 886.77H416.63" stroke="#4c4c4c" stroke-width="1.1" fill="none"/><rect x="409.2" y="801.54" width="9.52" height="34.42" fill="#c45f55" stroke="#5a3a38" stroke-width="1.1"/><path d="M409.2 820.37H418.72" stroke="#5a3a38" stroke-width="1.1"/>
<path d="M428.54 937.57V932.41M428.54 942.15V945.66M425.87 932.41H431.21M425.87 945.66H431.21" stroke="#4c4c4c" stroke-width="1.1" fill="none"/><rect x="423.78" y="937.57" width="9.52" height="4.58" fill="#8a1f2e" stroke="#54202a" stroke-width="1.1"/><path d="M423.78 939.75H433.3" stroke="#54202a" stroke-width="1.1"/>
<path d="M438.26 804.36V767.97M438.26 839.68V881.92M435.59 767.97H440.92M435.59 881.92H440.92" stroke="#4c4c4c" stroke-width="1.1" fill="none"/><rect x="433.49" y="804.36" width="9.52" height="35.32" fill="#c45f55" stroke="#5a3a38" stroke-width="1.1"/><path d="M433.49 822.77H443.02" stroke="#5a3a38" stroke-width="1.1"/>
<path d="M452.83 934.22V927.3M452.83 940.39V945.07M450.17 927.3H455.5M450.17 945.07H455.5" stroke="#4c4c4c" stroke-width="1.1" fill="none"/><rect x="448.07" y="934.22" width="9.52" height="6.17" fill="#8a1f2e" stroke="#54202a" stroke-width="1.1"/><path d="M448.07 937.15H457.6" stroke="#54202a" stroke-width="1.1"/>
<path d="M462.55 804.68V766.59M462.55 839.05V888.52M459.88 766.59H465.22M459.88 888.52H465.22" stroke="#4c4c4c" stroke-width="1.1" fill="none"/><rect x="457.79" y="804.68" width="9.52" height="34.37" fill="#c45f55" stroke="#5a3a38" stroke-width="1.1"/><path d="M457.79 824.95H467.31" stroke="#5a3a38" stroke-width="1.1"/>
<path d="M477.13 934.81V929.49M477.13 941.56V948.64M474.46 929.49H479.8M474.46 948.64H479.8" stroke="#4c4c4c" stroke-width="1.1" fill="none"/><rect x="472.37" y="934.81" width="9.52" height="6.76" fill="#8a1f2e" stroke="#54202a" stroke-width="1.1"/><path d="M472.37 938.16H481.89" stroke="#54202a" stroke-width="1.1"/>
<path d="M486.85 815.53V793.56M486.85 845.64V888.84M484.18 793.56H489.51M484.18 888.84H489.51" stroke="#4c4c4c" stroke-width="1.1" fill="none"/><rect x="482.08" y="815.53" width="9.52" height="30.11" fill="#c45f55" stroke="#5a3a38" stroke-width="1.1"/><path d="M482.08 828.57H491.61" stroke="#5a3a38" stroke-width="1.1"/>
<path d="M501.42 938.1V934.7M501.42 942.09V946.62M498.76 934.7H504.09M498.76 946.62H504.09" stroke="#4c4c4c" stroke-width="1.1" fill="none"/><rect x="496.66" y="938.1" width="9.52" height="3.99" fill="#8a1f2e" stroke="#54202a" stroke-width="1.1"/><path d="M496.66 939.97H506.19" stroke="#54202a" stroke-width="1.1"/>
<path d="M511.14 811.12V764.67M511.14 842.82V889.43M508.47 764.67H513.81M508.47 889.43H513.81" stroke="#4c4c4c" stroke-width="1.1" fill="none"/><rect x="506.38" y="811.12" width="9.52" height="31.71" fill="#c45f55" stroke="#5a3a38" stroke-width="1.1"/><path d="M506.38 827.61H515.9" stroke="#5a3a38" stroke-width="1.1"/>
<path d="M525.72 937.04V931.93M525.72 941.67V946.99M523.05 931.93H528.39M523.05 946.99H528.39" stroke="#4c4c4c" stroke-width="1.1" fill="none"/><rect x="520.96" y="937.04" width="9.52" height="4.63" fill="#8a1f2e" stroke="#54202a" stroke-width="1.1"/><path d="M520.96 939.22H530.48" stroke="#54202a" stroke-width="1.1"/>
<path d="M535.44 806.43V765.63M535.44 841.28V888.95M532.77 765.63H538.1M532.77 888.95H538.1" stroke="#4c4c4c" stroke-width="1.1" fill="none"/><rect x="530.67" y="806.43" width="9.52" height="34.85" fill="#c45f55" stroke="#5a3a38" stroke-width="1.1"/><path d="M530.67 824.31H540.2" stroke="#5a3a38" stroke-width="1.1"/>
<path d="M550.01 933.21V923.79M550.01 940.18V949.06M547.35 923.79H552.68M547.35 949.06H552.68" stroke="#4c4c4c" stroke-width="1.1" fill="none"/><rect x="545.25" y="933.21" width="9.52" height="6.97" fill="#8a1f2e" stroke="#54202a" stroke-width="1.1"/><path d="M545.25 936.77H554.78" stroke="#54202a" stroke-width="1.1"/>
<path d="M559.73 812.23V768.93M559.73 846.12V886.13M557.06 768.93H562.4M557.06 886.13H562.4" stroke="#4c4c4c" stroke-width="1.1" fill="none"/><rect x="554.97" y="812.23" width="9.52" height="33.89" fill="#c45f55" stroke="#5a3a38" stroke-width="1.1"/><path d="M554.97 830.11H564.49" stroke="#5a3a38" stroke-width="1.1"/>
<path d="M574.31 931.08V924.8M574.31 939.54V945.71M571.64 924.8H576.98M571.64 945.71H576.98" stroke="#4c4c4c" stroke-width="1.1" fill="none"/><rect x="569.55" y="931.08" width="9.52" height="8.46" fill="#8a1f2e" stroke="#54202a" stroke-width="1.1"/><path d="M569.55 934.97H579.07" stroke="#54202a" stroke-width="1.1"/>
<path d="M584.03 811.43V769.73M584.03 843.14V884.11M581.36 769.73H586.69M581.36 884.11H586.69" stroke="#4c4c4c" stroke-width="1.1" fill="none"/><rect x="579.26" y="811.43" width="9.52" height="31.71" fill="#c45f55" stroke="#5a3a38" stroke-width="1.1"/><path d="M579.26 825.59H588.79" stroke="#5a3a38" stroke-width="1.1"/>
<path d="M598.6 936.35V930.87M598.6 940.92V945.82M595.94 930.87H601.27M595.94 945.82H601.27" stroke="#4c4c4c" stroke-width="1.1" fill="none"/><rect x="593.84" y="936.35" width="9.52" height="4.58" fill="#8a1f2e" stroke="#54202a" stroke-width="1.1"/><path d="M593.84 938.42H603.37" stroke="#54202a" stroke-width="1.1"/>
<path d="M608.32 803.14V767.01M608.32 836.07V875.65M605.65 767.01H610.99M605.65 875.65H610.99" stroke="#4c4c4c" stroke-width="1.1" fill="none"/><rect x="603.56" y="803.14" width="9.52" height="32.93" fill="#c45f55" stroke="#5a3a38" stroke-width="1.1"/><path d="M603.56 820.69H613.08" stroke="#5a3a38" stroke-width="1.1"/>
<path d="M622.9 935.39V929.8M622.9 941.19V948.58M620.23 929.8H625.57M620.23 948.58H625.57" stroke="#4c4c4c" stroke-width="1.1" fill="none"/><rect x="618.14" y="935.39" width="9.52" height="5.8" fill="#8a1f2e" stroke="#54202a" stroke-width="1.1"/><path d="M618.14 938.21H627.66" stroke="#54202a" stroke-width="1.1"/>
<path d="M632.62 817.39V788.98M632.62 850.06V892.09M629.95 788.98H635.28M629.95 892.09H635.28" stroke="#4c4c4c" stroke-width="1.1" fill="none"/><rect x="627.85" y="817.39" width="9.52" height="32.66" fill="#c45f55" stroke="#5a3a38" stroke-width="1.1"/><path d="M627.85 833.09H637.38" stroke="#5a3a38" stroke-width="1.1"/>
<path d="M647.19 937.73V932.78M647.19 941.93V946.72M644.53 932.78H649.86M644.53 946.72H649.86" stroke="#4c4c4c" stroke-width="1.1" fill="none"/><rect x="642.43" y="937.73" width="9.52" height="4.2" fill="#8a1f2e" stroke="#54202a" stroke-width="1.1"/><path d="M642.43 939.75H651.96" stroke="#54202a" stroke-width="1.1"/>
<path d="M656.91 807.07V763.13M656.91 841.12V891.02M654.24 763.13H659.58M654.24 891.02H659.58" stroke="#4c4c4c" stroke-width="1.1" fill="none"/><rect x="652.15" y="807.07" width="9.52" height="34.05" fill="#c45f55" stroke="#5a3a38" stroke-width="1.1"/><path d="M652.15 824.63H661.67" stroke="#5a3a38" stroke-width="1.1"/>
<rect x="384.4" y="985.3" width="10" height="3.3" fill="#8a1f2e" stroke="#4c4c4c" stroke-width="0.35"/>
<rect x="427.2" y="985.3" width="10" height="3.3" fill="#c45f55" stroke="#4c4c4c" stroke-width="0.35"/>
</g>
<g filter="url(#softT)">
<g font-family='"Liberation Sans", "DejaVu Sans", sans-serif' font-size="7.9" fill="#262626">
<text x="190.45" y="969.5" text-anchor="middle">S0</text>
<text x="214.74" y="969.5" text-anchor="middle">S1</text>
<text x="239.04" y="969.5" text-anchor="middle">S2</text>
<text x="263.33" y="969.5" text-anchor="middle">S3</text>
<text x="287.63" y="969.5" text-anchor="middle">S4</text>
<text x="311.92" y="969.5" text-anchor="middle">S5</text>
<text x="336.22" y="969.5" text-anchor="middle">S6</text>
<text x="360.51" y="969.5" text-anchor="middle">S7</text>
<text x="384.81" y="969.5" text-anchor="middle">S8</text>
<text x="409.1" y="969.5" text-anchor="middle">S9</text>
<text x="433.4" y="969.5" text-anchor="middle">S10</text>
<text x="457.69" y="969.5" text-anchor="middle">S11</text>
<text x="481.99" y="969.5" text-anchor="middle">S12</text>
<text x="506.28" y="969.5" text-anchor="middle">S13</text>
<text x="530.58" y="969.5" text-anchor="middle">S14</text>
<text x="554.87" y="969.5" text-anchor="middle">S15</text>
<text x="579.17" y="969.5" text-anchor="middle">S16</text>
<text x="603.46" y="969.5" text-anchor="middle">S17</text>
<text x="627.76" y="969.5" text-anchor="middle">S18</text>
<text x="652.05" y="969.5" text-anchor="middle">S19</text>
<text x="174.3" y="955.1" text-anchor="end">0.0</text>
<text x="174.3" y="928.5" text-anchor="end">0.5</text>
<text x="174.3" y="901.9" text-anchor="end">1.0</text>
<text x="174.3" y="875.3" text-anchor="end">1.5</text>
<text x="174.3" y="848.7" text-anchor="end">2.0</text>
<text x="174.3" y="822.1" text-anchor="end">2.5</text>
<text x="174.3" y="795.5" text-anchor="end">3.0</text>
<text x="174.3" y="768.9" text-anchor="end">3.5</text>
<text x="174.3" y="742.3" text-anchor="end">4.0</text>
</g>
<text x="421.2" y="978.6" text-anchor="middle" font-family='"Liberation Sans", "DejaVu Sans", sans-serif' font-size="8.7" fill="#262626">Stock</text>
<text transform="translate(159.3 841) rotate(-90)" text-anchor="middle" style="stroke-width:0.08px" font-family='"Liberation Sans", "DejaVu Sans", sans-serif' font-size="9.55" fill="#262626">ImputationError</text>
<g font-family='"Liberation Sans", "DejaVu Sans", sans-serif' font-size="9.5" fill="#262626">
<text x="398.4" y="988.7">PCA</text>
<text x="441" y="988.7">Ano</text>
</g>
</g>
</svg>
</body>
</html>
